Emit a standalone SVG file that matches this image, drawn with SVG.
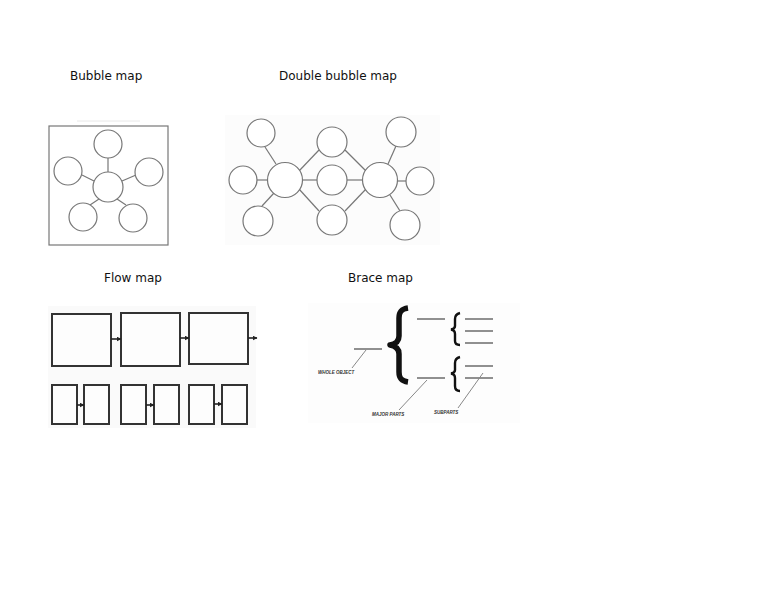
<svg xmlns="http://www.w3.org/2000/svg" width="768" height="594" viewBox="0 0 768 594">
<style>
.t{font-family:"DejaVu Sans",sans-serif;font-size:12px;fill:#111}
.c{fill:#fff;stroke:#777;stroke-width:1.2}
.l{stroke:#777;stroke-width:1.2;fill:none}
.b{fill:#fdfdfd;stroke:#333;stroke-width:2}
.a{stroke:#222;stroke-width:1.6}
.s{font-family:"Liberation Sans",sans-serif;font-size:4.5px;font-weight:bold;font-style:italic;fill:#333}
.g{stroke:#888;stroke-width:1;fill:none}
</style>
<defs>
<marker id="ah" markerWidth="5" markerHeight="5" refX="4.5" refY="2.5" orient="auto" markerUnits="userSpaceOnUse">
<path d="M0,0 L5,2.5 L0,5 Z" fill="#222"/>
</marker>
</defs>
<rect width="768" height="594" fill="#fff"/>

<g id="labels">
<text class="t" x="70" y="80">Bubble map</text>
<text class="t" x="279" y="80">Double bubble map</text>
<text class="t" x="104" y="282">Flow map</text>
<text class="t" x="348" y="282">Brace map</text>
</g>

<g id="bubble-map">
<line x1="77" y1="121" x2="140" y2="121" stroke="#e2e2e2" stroke-width="0.8"/>
<rect x="49" y="126" width="119" height="119" fill="#fff" stroke="#777" stroke-width="1.2"/>
<g class="l">
<line x1="108" y1="158" x2="108" y2="172"/>
<line x1="82" y1="175" x2="94" y2="181"/>
<line x1="136" y1="175" x2="122" y2="181"/>
<line x1="90" y1="205" x2="99" y2="199"/>
<line x1="126" y1="205" x2="117" y2="199"/>
</g>
<circle class="c" cx="108" cy="144" r="14"/>
<circle class="c" cx="108" cy="187" r="15"/>
<circle class="c" cx="68" cy="171" r="14"/>
<circle class="c" cx="149" cy="172" r="14"/>
<circle class="c" cx="83" cy="217" r="14"/>
<circle class="c" cx="133" cy="218" r="14"/>
</g>

<g id="double-bubble-map">
<rect x="225" y="115" width="215" height="130" fill="#fcfcfc"/>
<g class="l">
<line x1="265" y1="147" x2="276" y2="164"/>
<line x1="256" y1="180" x2="268" y2="180"/>
<line x1="262" y1="206" x2="274" y2="193"/>
<line x1="302" y1="180" x2="317" y2="180"/>
<line x1="347" y1="180" x2="363" y2="180"/>
<line x1="299" y1="171" x2="319" y2="150"/>
<line x1="299" y1="189" x2="319" y2="211"/>
<line x1="345" y1="150" x2="366" y2="171"/>
<line x1="345" y1="211" x2="366" y2="189"/>
<line x1="396" y1="146" x2="388" y2="164"/>
<line x1="397" y1="181" x2="406" y2="181"/>
<line x1="400" y1="211" x2="390" y2="195"/>
</g>
<circle class="c" cx="261" cy="133" r="14"/>
<circle class="c" cx="243" cy="180" r="14"/>
<circle class="c" cx="258" cy="221" r="15"/>
<circle class="c" cx="285" cy="180" r="17.5"/>
<circle class="c" cx="332" cy="142" r="15"/>
<circle class="c" cx="332" cy="180" r="15"/>
<circle class="c" cx="332" cy="220" r="15"/>
<circle class="c" cx="380" cy="180" r="17.5"/>
<circle class="c" cx="401" cy="132" r="15"/>
<circle class="c" cx="420" cy="181" r="14"/>
<circle class="c" cx="405" cy="225" r="15"/>
</g>

<g id="flow-map">
<rect x="48" y="306" width="208" height="122" fill="#fafafa"/>
<rect class="b" x="52" y="314" width="59" height="52"/>
<rect class="b" x="121" y="313" width="59" height="53"/>
<rect class="b" x="189" y="313" width="59" height="51"/>
<rect class="b" x="52" y="385" width="25" height="39"/>
<rect class="b" x="84" y="385" width="25" height="39"/>
<rect class="b" x="121" y="385" width="25" height="39"/>
<rect class="b" x="154" y="385" width="25" height="39"/>
<rect class="b" x="189" y="385" width="25" height="39"/>
<rect class="b" x="222" y="385" width="25" height="39"/>
</g>

<g id="connectors">
<line class="a" x1="111" y1="339" x2="121" y2="339" marker-end="url(#ah)"/>
<line class="a" x1="180" y1="338" x2="189" y2="338" marker-end="url(#ah)"/>
<line class="a" x1="248" y1="338" x2="257" y2="338" marker-end="url(#ah)"/>
<line class="a" x1="77" y1="405" x2="84" y2="405" marker-end="url(#ah)"/>
<line class="a" x1="146" y1="405" x2="154" y2="405" marker-end="url(#ah)"/>
<line class="a" x1="214" y1="404" x2="222" y2="404" marker-end="url(#ah)"/>
</g>

<g id="brace-map">
<rect x="308" y="303" width="212" height="120" fill="#fdfdfd"/>
<path d="M408,308 C401,309 399,312 399,318 L399,336 C399,341 396,344 390,345 C396,346 399,349 399,354 L399,372 C399,378 401,381 408,382" fill="none" stroke="#111" stroke-width="5.5" stroke-linejoin="round"/>
<path d="M460,313 C456,314 455,316 455,319 L455,326 C455,328 454,329 451,329.5 C454,330 455,331 455,334 L455,341 C455,343 456,345 460,345" fill="none" stroke="#111" stroke-width="2.4"/>
<path d="M460,357 C456,358 455,360 455,363 L455,370 C455,372 454,373 451,373.5 C454,374 455,375 455,378 L455,386 C455,389 456,391 460,391" fill="none" stroke="#111" stroke-width="2.4"/>
<g stroke="#555" stroke-width="1.3">
<line x1="354" y1="349" x2="382" y2="349"/>
<line x1="417" y1="319" x2="445" y2="319"/>
<line x1="417" y1="378" x2="445" y2="378"/>
<line x1="465" y1="319" x2="493" y2="319"/>
<line x1="465" y1="331" x2="493" y2="331"/>
<line x1="465" y1="343" x2="493" y2="343"/>
<line x1="465" y1="366" x2="493" y2="366"/>
<line x1="465" y1="378" x2="493" y2="378"/>
</g>
<g class="g">
<line x1="366" y1="350" x2="352" y2="368"/>
<line x1="427" y1="380" x2="399" y2="410"/>
<line x1="483" y1="373" x2="458" y2="408"/>
</g>
<text class="s" x="318" y="374">WHOLE OBJECT</text>
<text class="s" x="372" y="416">MAJOR PARTS</text>
<text class="s" x="434" y="414">SUBPARTS</text>
</g>
</svg>
